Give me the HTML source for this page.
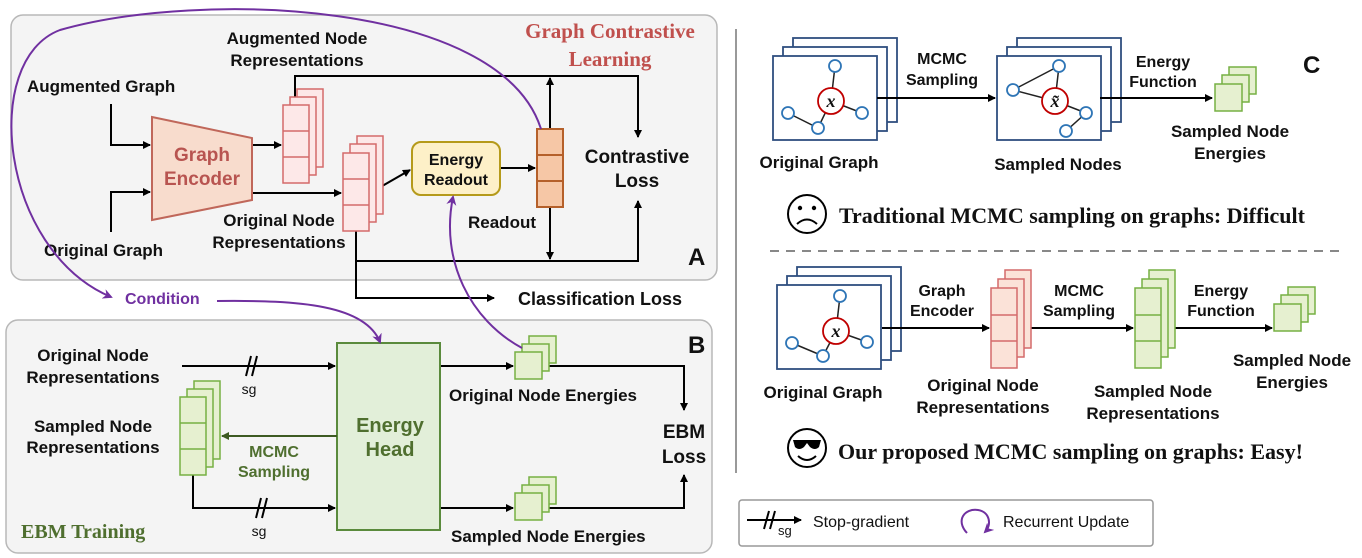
<!DOCTYPE html>
<html><head><meta charset="utf-8"><style>
html,body{margin:0;padding:0;background:#fff;}
svg{display:block;}
text{font-family:"Liberation Sans",sans-serif;font-weight:bold;fill:#111;}
.s{font-family:"Liberation Serif",serif;}
</style></head><body>
<svg width="1362" height="558" viewBox="0 0 1362 558" xmlns="http://www.w3.org/2000/svg">
<defs>
<marker id="ah" markerWidth="8" markerHeight="8" refX="7" refY="4" orient="auto" markerUnits="userSpaceOnUse"><path d="M0,0 L8,4 L0,8 Z" fill="#000"/></marker>
<marker id="ag" markerWidth="8" markerHeight="8" refX="7" refY="4" orient="auto" markerUnits="userSpaceOnUse"><path d="M0,0 L8,4 L0,8 Z" fill="#3d5a22"/></marker>
<marker id="ap" markerWidth="10" markerHeight="10" refX="8" refY="5" orient="auto" markerUnits="userSpaceOnUse"><path d="M0,0 L10,5 L0,10 L3,5 Z" fill="#7030a0"/></marker>
</defs>

<!-- Panel A -->
<rect x="11" y="15" width="706" height="265" rx="12" fill="#f4f4f4" stroke="#b8b8b8" stroke-width="1.5"/>
<text class="s" x="610" y="38" font-size="21" text-anchor="middle" style="fill:#c0504d">Graph Contrastive</text>
<text class="s" x="610" y="66" font-size="21" text-anchor="middle" style="fill:#c0504d">Learning</text>
<text x="297" y="44" font-size="17" text-anchor="middle">Augmented Node</text>
<text x="297" y="66" font-size="17" text-anchor="middle">Representations</text>
<text x="27" y="92" font-size="17">Augmented Graph</text>
<text x="44" y="256" font-size="17">Original Graph</text>
<text x="279" y="226" font-size="17" text-anchor="middle">Original Node</text>
<text x="279" y="248" font-size="17" text-anchor="middle">Representations</text>

<g fill="none" stroke="#000" stroke-width="2">
<path d="M111,104 V145 H150" marker-end="url(#ah)"/>
<path d="M111,232 V192 H150" marker-end="url(#ah)"/>
<path d="M252,145 H281" marker-end="url(#ah)"/>
<path d="M252,193 H341" marker-end="url(#ah)"/>
<path d="M295,105 V76 H638 V137" marker-end="url(#ah)"/>
<path d="M370,193 L410,170" marker-end="url(#ah)"/>
<path d="M500,168 H535" marker-end="url(#ah)"/>
<path d="M550,129 V78" marker-end="url(#ah)"/>
<path d="M550,207 V259" marker-end="url(#ah)"/>
<path d="M356,230 V261 H638 V201" marker-end="url(#ah)"/>
<path d="M356,261 V298 H494" marker-end="url(#ah)"/>
</g>

<polygon points="152,117 252,138 252,200 152,220" fill="#f8dccd" stroke="#c0675a" stroke-width="2"/>
<text x="202" y="161" font-size="19" text-anchor="middle" style="fill:#b85450">Graph</text>
<text x="202" y="185" font-size="19" text-anchor="middle" style="fill:#b85450">Encoder</text>

<g fill="#fde8e8" stroke="#d46a6a" stroke-width="1.5">
<rect x="297" y="89" width="26" height="78"/><rect x="290" y="97" width="26" height="78"/><rect x="283" y="105" width="26" height="78"/>
<line x1="283" y1="131" x2="309" y2="131"/><line x1="283" y1="157" x2="309" y2="157"/>
<rect x="357" y="136" width="26" height="78"/><rect x="350" y="144" width="26" height="78"/><rect x="343" y="153" width="26" height="78"/>
<line x1="343" y1="179" x2="369" y2="179"/><line x1="343" y1="205" x2="369" y2="205"/>
</g>

<rect x="412" y="142" width="88" height="53" rx="9" fill="#fdf0c8" stroke="#b59a1a" stroke-width="2"/>
<text x="456" y="165" font-size="16" text-anchor="middle">Energy</text>
<text x="456" y="185" font-size="16" text-anchor="middle">Readout</text>

<g fill="#f6c7a6" stroke="#b5602a" stroke-width="2">
<rect x="537" y="129" width="26" height="78"/>
<line x1="537" y1="155" x2="563" y2="155"/><line x1="537" y1="181" x2="563" y2="181"/>
</g>
<text x="502" y="228" font-size="17" text-anchor="middle">Readout</text>
<text x="637" y="163" font-size="19" text-anchor="middle">Contrastive</text>
<text x="637" y="187" font-size="19" text-anchor="middle">Loss</text>
<text x="688" y="265" font-size="24">A</text>
<text x="518" y="305" font-size="18">Classification Loss</text>

<!-- Panel B -->
<rect x="6" y="320" width="706" height="233" rx="12" fill="#f4f4f4" stroke="#b8b8b8" stroke-width="1.5"/>
<text x="688" y="353" font-size="24">B</text>
<text x="93" y="361" font-size="17" text-anchor="middle">Original Node</text>
<text x="93" y="383" font-size="17" text-anchor="middle">Representations</text>
<text x="93" y="432" font-size="17" text-anchor="middle">Sampled Node</text>
<text x="93" y="453" font-size="17" text-anchor="middle">Representations</text>
<g fill="none" stroke="#000" stroke-width="2">
<path d="M182,366 H335" marker-end="url(#ah)"/>
<path d="M193,475 V508 H335" marker-end="url(#ah)"/>
<path d="M440,366 H513" marker-end="url(#ah)"/>
<path d="M440,508 H513" marker-end="url(#ah)"/>
<path d="M542,366 H684 V410" marker-end="url(#ah)"/>
<path d="M542,508 H684 V475" marker-end="url(#ah)"/>
</g>
<g stroke="#000" stroke-width="2"><line x1="246" y1="376" x2="251" y2="356"/><line x1="252" y1="376" x2="257" y2="356"/>
<line x1="256" y1="518" x2="261" y2="498"/><line x1="262" y1="518" x2="267" y2="498"/></g>
<text x="249" y="394" font-size="14" text-anchor="middle" style="font-weight:normal">sg</text>
<text x="259" y="536" font-size="14" text-anchor="middle" style="font-weight:normal">sg</text>
<rect x="337" y="343" width="103" height="187" fill="#e2efd9" stroke="#5a8a3c" stroke-width="2"/>
<text x="390" y="432" font-size="20" text-anchor="middle" style="fill:#4f6f2f">Energy</text>
<text x="390" y="456" font-size="20" text-anchor="middle" style="fill:#4f6f2f">Head</text>
<text x="274" y="457" font-size="16" text-anchor="middle" style="fill:#4f6f2f">MCMC</text>
<text x="274" y="477" font-size="16" text-anchor="middle" style="fill:#4f6f2f">Sampling</text>
<g fill="#e6f0d0" stroke="#76b043" stroke-width="1.5">
<rect x="194" y="381" width="26" height="78"/><rect x="187" y="389" width="26" height="78"/><rect x="180" y="397" width="26" height="78"/>
<line x1="180" y1="423" x2="206" y2="423"/><line x1="180" y1="449" x2="206" y2="449"/>
<rect x="529" y="336" width="27" height="27"/><rect x="522" y="344" width="27" height="27"/><rect x="515" y="352" width="27" height="27"/>
<rect x="529" y="477" width="27" height="27"/><rect x="522" y="485" width="27" height="27"/><rect x="515" y="493" width="27" height="27"/>
</g>
<path d="M337,436 H222" stroke="#3d5a22" stroke-width="2" fill="none" marker-end="url(#ag)"/>
<text x="449" y="401" font-size="17">Original Node Energies</text>
<text x="451" y="542" font-size="17">Sampled Node Energies</text>
<text x="684" y="438" font-size="19" text-anchor="middle">EBM</text>
<text x="684" y="463" font-size="19" text-anchor="middle">Loss</text>
<text class="s" x="21" y="538" font-size="20" style="fill:#4f6f2f">EBM Training</text>

<g fill="none" stroke="#7030a0" stroke-width="2">
<path d="M541,129 C500,0 200,-10 60,30 C-20,60 0,250 111,297" marker-end="url(#ap)"/>
<path d="M217,301 C300,300 365,305 380,342" marker-end="url(#ap)"/>
<path d="M522,348 C470,320 440,260 453,197" marker-end="url(#ap)"/>
</g>
<text x="125" y="304" font-size="16" style="fill:#7030a0">Condition</text>

<!-- Panel C -->
<line x1="736" y1="29" x2="736" y2="473" stroke="#999" stroke-width="2"/>
<text x="1303" y="73" font-size="24">C</text>
<g fill="#fff" stroke="#2f4f7f" stroke-width="1.8">
<rect x="793" y="38" width="104" height="84"/><rect x="783" y="47" width="104" height="84"/><rect x="773" y="56" width="104" height="84"/>
<rect x="1017" y="38" width="104" height="84"/><rect x="1007" y="47" width="104" height="84"/><rect x="997" y="56" width="104" height="84"/>
<rect x="797" y="267" width="104" height="84"/><rect x="787" y="276" width="104" height="84"/><rect x="777" y="285" width="104" height="84"/>
</g>
<g stroke="#222" stroke-width="1.5">
<line x1="831" y1="101" x2="835" y2="66"/><line x1="831" y1="101" x2="862" y2="113"/><line x1="831" y1="101" x2="818" y2="128"/><line x1="818" y1="128" x2="788" y2="113"/>
<line x1="1055" y1="101" x2="1059" y2="66"/><line x1="1059" y1="66" x2="1013" y2="90"/><line x1="1055" y1="101" x2="1013" y2="90"/><line x1="1055" y1="101" x2="1086" y2="113"/><line x1="1086" y1="113" x2="1066" y2="131"/>
<line x1="836" y1="331" x2="840" y2="296"/><line x1="836" y1="331" x2="867" y2="342"/><line x1="836" y1="331" x2="823" y2="356"/><line x1="823" y1="356" x2="792" y2="343"/>
</g>
<g fill="#fff" stroke="#2e75b6" stroke-width="1.8">
<circle cx="835" cy="66" r="6"/><circle cx="788" cy="113" r="6"/><circle cx="818" cy="128" r="6"/><circle cx="862" cy="113" r="6"/>
<circle cx="1059" cy="66" r="6"/><circle cx="1013" cy="90" r="6"/><circle cx="1086" cy="113" r="6"/><circle cx="1066" cy="131" r="6"/>
<circle cx="840" cy="296" r="6"/><circle cx="792" cy="343" r="6"/><circle cx="823" cy="356" r="6"/><circle cx="867" cy="342" r="6"/>
</g>
<g fill="#fff" stroke="#c00000" stroke-width="1.8">
<circle cx="831" cy="101" r="13"/><circle cx="1055" cy="101" r="13"/><circle cx="836" cy="331" r="13"/>
</g>
<text class="s" x="831" y="107" font-size="18" font-style="italic" text-anchor="middle">x</text>
<text class="s" x="1055" y="107" font-size="18" font-style="italic" text-anchor="middle">x̃</text>
<text class="s" x="836" y="337" font-size="18" font-style="italic" text-anchor="middle">x</text>

<g fill="none" stroke="#000" stroke-width="2">
<path d="M877,98 H995" marker-end="url(#ah)"/>
<path d="M1100,98 H1212" marker-end="url(#ah)"/>
<path d="M882,328 H989" marker-end="url(#ah)"/>
<path d="M1018,328 H1133" marker-end="url(#ah)"/>
<path d="M1162,328 H1272" marker-end="url(#ah)"/>
</g>
<text x="942" y="64" font-size="16" text-anchor="middle">MCMC</text>
<text x="942" y="85" font-size="16" text-anchor="middle">Sampling</text>
<text x="1163" y="67" font-size="16" text-anchor="middle">Energy</text>
<text x="1163" y="87" font-size="16" text-anchor="middle">Function</text>
<g fill="#e6f0d0" stroke="#76b043" stroke-width="1.5">
<rect x="1229" y="67" width="27" height="27"/><rect x="1222" y="75" width="27" height="27"/><rect x="1215" y="84" width="27" height="27"/>
<rect x="1288" y="287" width="27" height="27"/><rect x="1281" y="295" width="27" height="27"/><rect x="1274" y="304" width="27" height="27"/>
<rect x="1149" y="270" width="26" height="78"/><rect x="1142" y="279" width="26" height="78"/><rect x="1135" y="288" width="26" height="80"/>
<line x1="1135" y1="315" x2="1161" y2="315"/><line x1="1135" y1="341" x2="1161" y2="341"/>
</g>
<g fill="#fbe2d8" stroke="#d46a6a" stroke-width="1.5">
<rect x="1005" y="270" width="26" height="78"/><rect x="998" y="279" width="26" height="78"/><rect x="991" y="288" width="26" height="80"/>
<line x1="991" y1="315" x2="1017" y2="315"/><line x1="991" y1="341" x2="1017" y2="341"/>
</g>
<text x="819" y="168" font-size="17" text-anchor="middle">Original Graph</text>
<text x="1058" y="170" font-size="17" text-anchor="middle">Sampled Nodes</text>
<text x="1230" y="137" font-size="17" text-anchor="middle">Sampled Node</text>
<text x="1230" y="159" font-size="17" text-anchor="middle">Energies</text>

<circle cx="807" cy="214" r="19" fill="none" stroke="#000" stroke-width="2"/>
<circle cx="800" cy="208" r="2.2"/><circle cx="814" cy="208" r="2.2"/>
<path d="M797,224 Q807,215 817,224" fill="none" stroke="#000" stroke-width="2"/>
<text class="s" x="839" y="223" font-size="22">Traditional MCMC sampling on graphs: Difficult</text>
<line x1="770" y1="251" x2="1342" y2="251" stroke="#888" stroke-width="2" stroke-dasharray="9,7"/>

<text x="942" y="296" font-size="16" text-anchor="middle">Graph</text>
<text x="942" y="316" font-size="16" text-anchor="middle">Encoder</text>
<text x="1079" y="296" font-size="16" text-anchor="middle">MCMC</text>
<text x="1079" y="316" font-size="16" text-anchor="middle">Sampling</text>
<text x="1221" y="296" font-size="16" text-anchor="middle">Energy</text>
<text x="1221" y="316" font-size="16" text-anchor="middle">Function</text>
<text x="823" y="398" font-size="17" text-anchor="middle">Original Graph</text>
<text x="983" y="391" font-size="17" text-anchor="middle">Original Node</text>
<text x="983" y="413" font-size="17" text-anchor="middle">Representations</text>
<text x="1153" y="397" font-size="17" text-anchor="middle">Sampled Node</text>
<text x="1153" y="419" font-size="17" text-anchor="middle">Representations</text>
<text x="1292" y="366" font-size="17" text-anchor="middle">Sampled Node</text>
<text x="1292" y="388" font-size="17" text-anchor="middle">Energies</text>

<circle cx="807" cy="448" r="19" fill="none" stroke="#000" stroke-width="2"/>
<path d="M793,440 H821 L819,447 Q815,451 810,447 L807,443 L804,447 Q799,451 795,447 Z" fill="#000"/>
<path d="M798,456 Q807,464 816,456" fill="none" stroke="#000" stroke-width="2"/>
<text class="s" x="838" y="459" font-size="22">Our proposed MCMC sampling on graphs: Easy!</text>

<rect x="739" y="500" width="414" height="46" rx="3" fill="#fff" stroke="#999" stroke-width="1.5"/>
<path d="M747,520 H801" stroke="#000" stroke-width="2" fill="none" marker-end="url(#ah)"/>
<line x1="764" y1="529" x2="769" y2="511" stroke="#000" stroke-width="2"/><line x1="770" y1="529" x2="775" y2="511" stroke="#000" stroke-width="2"/>
<text x="778" y="535" font-size="13" style="font-weight:normal">sg</text>
<text x="813" y="527" font-size="16" style="font-weight:normal">Stop-gradient</text>
<path d="M967,533 C955,520 965,508 978,510 C990,512 992,525 985,532" fill="none" stroke="#7030a0" stroke-width="2" marker-end="url(#ap)"/>
<text x="1003" y="527" font-size="16" style="font-weight:normal">Recurrent Update</text>
</svg>
</body></html>
